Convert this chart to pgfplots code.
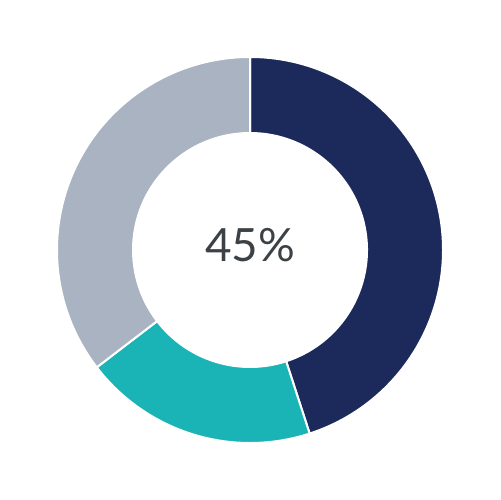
\documentclass[border=0pt]{standalone}
\usepackage{pgfplots}
\pgfplotsset{compat=1.18}
\usepackage{pgfplotstable}
\usepackage{fontspec}
\setmainfont{Lato}

\definecolor{navy}{HTML}{1B2A5B}
\definecolor{teal}{HTML}{1BB4B6}
\definecolor{slate}{HTML}{A9B3C2}
\definecolor{txt}{HTML}{3C4146}

% share of each ring segment, clockwise from the top
\pgfplotstableread{
part value
navy 45
teal 19.6
slate 35.4
}\donutdata

\begin{document}
\begin{tikzpicture}
\pgfplotstablegetelem{0}{value}\of\donutdata \let\va\pgfplotsretval
\pgfplotstablegetelem{1}{value}\of\donutdata \let\vb\pgfplotsretval
\pgfplotstablegetelem{2}{value}\of\donutdata \let\vc\pgfplotsretval
\pgfmathsetmacro\aS{90}
\pgfmathsetmacro\aE{\aS-3.6*\va}
\pgfmathsetmacro\bE{\aE-3.6*\vb}
\pgfmathsetmacro\cE{\bE-3.6*\vc}
\def\ro{193bp}
\def\ri{117bp}
\begin{axis}[
    x=1bp, y=1bp,
    xmin=-250, xmax=250,
    ymin=-250, ymax=250,
    hide axis,
    clip=false,
]
\path (axis cs:-250,-250) rectangle (axis cs:250,250);
\begin{scope}[shift={(axis cs:0,0)}]
\filldraw[fill=navy, draw=white, line width=2bp]
  (\aS:\ro) arc[start angle=\aS, end angle=\aE, radius=\ro]
  -- (\aE:\ri) arc[start angle=\aE, end angle=\aS, radius=\ri] -- cycle;
\filldraw[fill=teal, draw=white, line width=2bp]
  (\aE:\ro) arc[start angle=\aE, end angle=\bE, radius=\ro]
  -- (\bE:\ri) arc[start angle=\bE, end angle=\aE, radius=\ri] -- cycle;
\filldraw[fill=slate, draw=white, line width=2bp]
  (\bE:\ro) arc[start angle=\bE, end angle=\cE, radius=\ro]
  -- (\cE:\ri) arc[start angle=\cE, end angle=\bE, radius=\ri] -- cycle;
\end{scope}
\node[anchor=base, text=txt, font=\fontsize{46}{50}\selectfont, inner sep=0pt]
  at (axis cs:0,-12) {45\%};
\end{axis}
\end{tikzpicture}
\end{document}
